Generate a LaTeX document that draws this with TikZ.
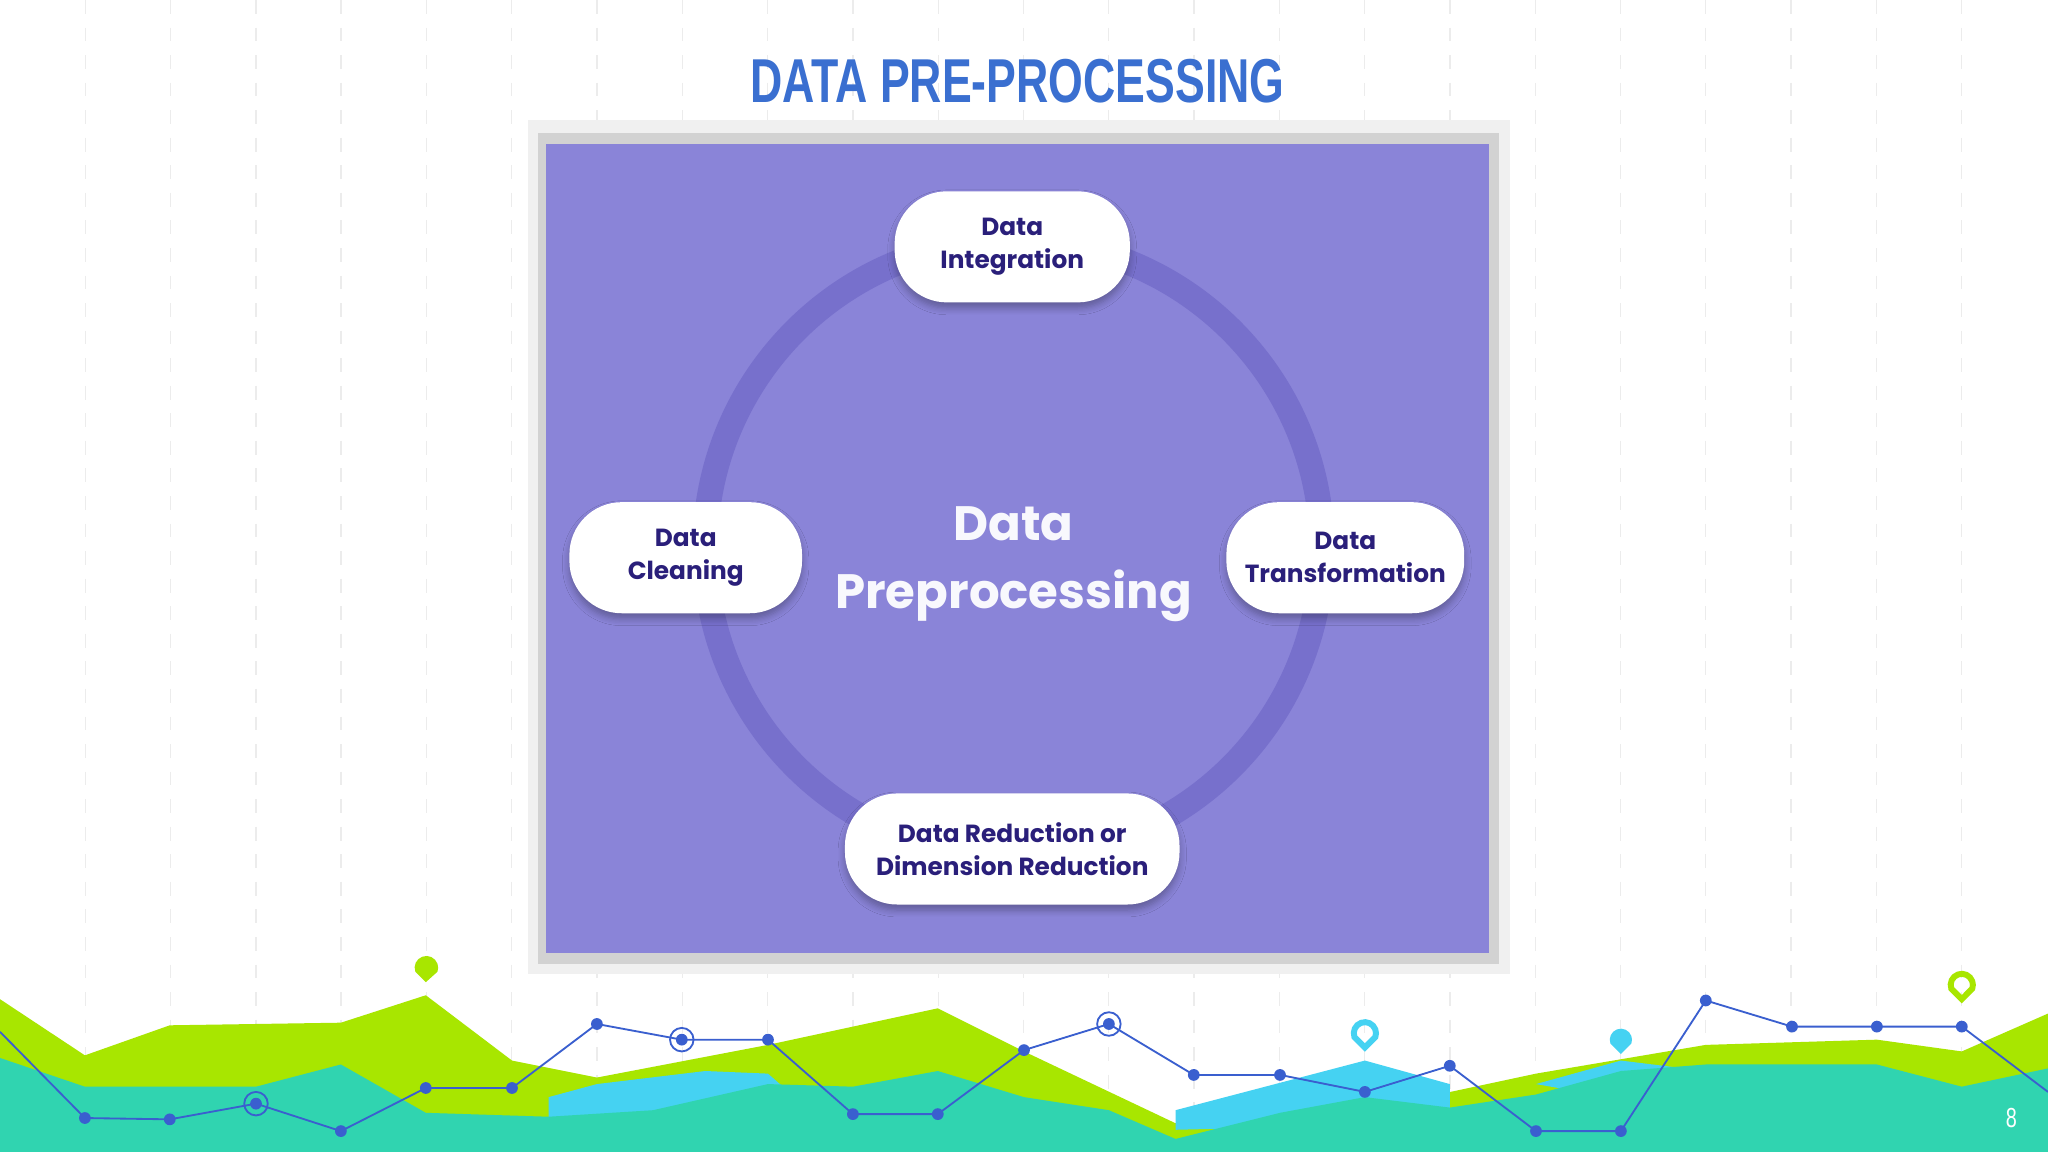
\documentclass[tikz,border=0pt]{standalone}
\usepackage{fontspec}
\setmainfont{Liberation Sans}
\newfontfamily\titlefont[FakeStretch=0.72]{Liberation Sans}
\newfontfamily\nodefont{Poppins}
\usetikzlibrary{shadows.blur}
\definecolor{ttl}{HTML}{3A6FD0}
\definecolor{purp}{HTML}{8A84D8}
\definecolor{ring}{HTML}{7770CC}
\definecolor{ink}{HTML}{2A1F7A}
\definecolor{lime}{HTML}{A8E600}
\definecolor{teal}{HTML}{30D4B0}
\definecolor{cyanx}{HTML}{45D2F2}
\definecolor{lineb}{HTML}{3A5FCF}
\tikzset{
 pill/.style={draw=none,fill=white,rounded corners=4mm,minimum height=8.5mm,inner sep=0pt,align=center,
   font=\nodefont\fontsize{5.4}{7.2}\selectfont\bfseries,text=ink,blur shadow={shadow blur steps=6,shadow xshift=0pt,shadow yshift=-1.2pt,shadow blur radius=1.5pt,shadow opacity=30}},
 dot/.style={circle,fill=lineb,inner sep=0pt,minimum size=0.9mm},
}
\begin{document}
\begin{tikzpicture}[x=0.01cm,y=-0.01cm]
\useasboundingbox (0,0) rectangle (1568,882);
\fill[white] (0,0) rectangle (1568,882);
\foreach \i in {1,...,23} \draw[gray!15,dashed,line width=0.3pt] (65.3*\i,0) -- (65.3*\i,882);
\node[font=\titlefont\fontsize{13.5}{15}\selectfont\bfseries,text=ttl] (title) at (779,62) {DATA PRE-PROCESSING};
\fill[gray!12] (404,92) rectangle (1156,746);
\fill[gray!35] (412,102) rectangle (1148,738);
\fill[purp] (418,110) rectangle (1140,730);
\draw[ring,line width=5.5pt] (776,420) circle[radius=2.36cm];
\node[font=\nodefont\fontsize{10.5}{13}\selectfont\bfseries,text=white!94!purp] (c1) at (776,401) {Data};
\node[font=\nodefont\fontsize{10.5}{13}\selectfont\bfseries,text=white!94!purp] (c2) at (776,456) {Preprocessing};
\node[pill,minimum width=18mm] (int) at (775,189) {Data\\Integration};
\node[pill,minimum width=17.8mm] (cln) at (525,427) {Data\\Cleaning};
\node[pill,minimum width=18.2mm] (trf) at (1030,427) {Data\\Transformation};
\node[pill,minimum width=25.6mm] (red) at (775,650) {Data Reduction or\\Dimension Reduction};
% landscape
\fill[lime] (0,765) -- (65,808) -- (130,785) -- (261,783) -- (326,762) -- (392,812) -- (457,825) -- (588,800) -- (718,772) -- (784,805) -- (900,860) -- (1045,850) -- (1176,822) -- (1306,800) -- (1437,796) -- (1502,805) -- (1568,776) -- (1568,882) -- (0,882) -- cycle;
\fill[cyanx] (420,840) -- (457,830) -- (540,820) -- (588,822) -- (620,850) -- (420,860) -- cycle;
\fill[cyanx] (900,850) -- (1045,812) -- (1110,830) -- (1110,860) -- (900,865) -- cycle;
\fill[cyanx] (1176,830) -- (1241,812) -- (1290,818) -- (1290,850) -- cycle;
\fill[teal] (0,810) -- (65,832) -- (196,832) -- (261,815) -- (326,852) -- (420,855) -- (500,850) -- (588,830) -- (653,832) -- (718,820) -- (784,840) -- (849,850) -- (900,872) -- (980,852) -- (1045,840) -- (1110,848) -- (1176,838) -- (1241,820) -- (1306,815) -- (1437,815) -- (1502,832) -- (1568,818) -- (1568,882) -- (0,882) -- cycle;
\draw[lineb,line width=0.4pt] (0,790) -- (65,856) -- (130,857) -- (196,845) -- (261,866) -- (326,833) -- (392,833) -- (457,784) -- (522,796) -- (588,796) -- (653,853) -- (718,853) -- (784,804) -- (849,784) -- (914,823) -- (980,823) -- (1045,836) -- (1110,816) -- (1176,866) -- (1241,866) -- (1306,766) -- (1372,786) -- (1437,786) -- (1502,786) -- (1568,836);
\foreach \p in {(65,856),(130,857),(196,845),(261,866),(326,833),(392,833),(457,784),(522,796),(588,796),(653,853),(718,853),(784,804),(849,784),(914,823),(980,823),(1045,836),(1110,816),(1176,866),(1241,866),(1306,766),(1372,786),(1437,786),(1502,786)} \node[dot] at \p {};
\foreach \p in {(196,845),(522,796),(849,784)} \draw[lineb,line width=0.4pt] \p circle[radius=0.9mm];
% pins
\fill[lime] (326,752) -- (318,744) arc[start angle=200,end angle=-20,radius=0.9mm] -- cycle;
\draw[cyanx,line width=1.3pt] (1045,802) -- (1037,794) arc[start angle=200,end angle=-20,radius=0.85mm] -- cycle;
\fill[cyanx] (1241,807) -- (1233,799) arc[start angle=200,end angle=-20,radius=0.85mm] -- cycle;
\draw[lime,line width=1.3pt] (1502,765) -- (1494,757) arc[start angle=200,end angle=-20,radius=0.85mm] -- cycle;
\node[text=white,font=\titlefont\fontsize{6}{7}\selectfont] (pg) at (1540,856) {8};
\end{tikzpicture}
\end{document}
